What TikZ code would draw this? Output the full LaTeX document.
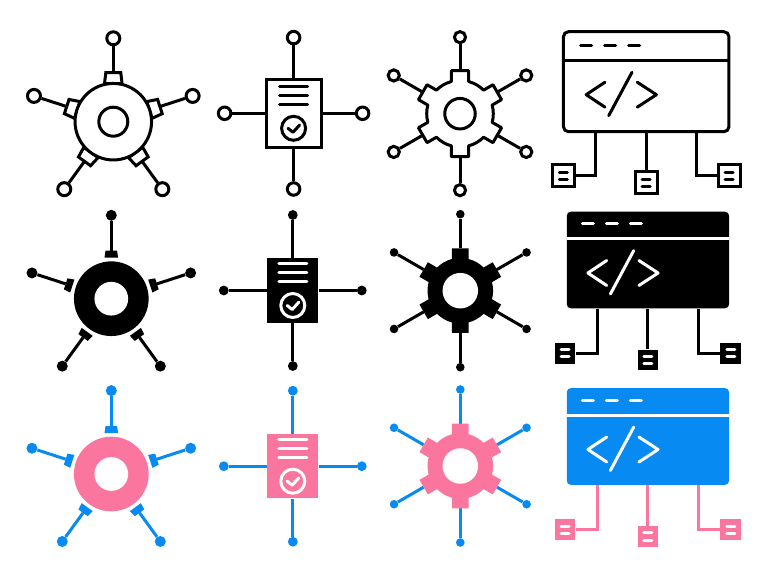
\documentclass[tikz,border=0pt]{standalone}
\usepackage{amsmath}
\usetikzlibrary{calc,positioning}

\definecolor{iconblue}{RGB}{8,138,243}
\definecolor{iconpink}{RGB}{251,118,158}

\tikzset{
  outlinerow/.style={
    wire/.style={black,line width=3pt},
    lead/.style={black,line width=3pt},
    tip/.style={circle,draw=black,fill=white,line width=3pt,inner sep=0pt},
    hubdisc/.style={circle,draw=black,fill=white,line width=3pt,inner sep=0pt},
    hubhole/.style={circle,draw=black,line width=3pt,inner sep=0pt},
    tabshape/.style={draw=black,fill=white,line width=3pt},
    sheet/.style={rectangle,draw=black,fill=white,line width=3pt,inner sep=0pt},
    gearbody/.style={draw=black,fill=white,line width=3pt,line join=round},
    winframe/.style={rectangle,rounded corners=5pt,draw=black,fill=white,line width=3pt,inner sep=0pt},
    smallbox/.style={rectangle,draw=black,fill=white,line width=3pt,inner sep=0pt,minimum size=22pt},
    glyph/.style={black,line width=3pt,line cap=round,line join=round}},
  solidrow/.style={
    wire/.style={#1,line width=3pt},
    tip/.style={circle,fill=#1,inner sep=0pt},
    tabshape/.style={draw=none,fill=#1},
    hubhole/.style={circle,fill=white,inner sep=0pt},
    glyph/.style={white,line width=3pt,line cap=round,line join=round}},
  blackrow/.style={solidrow=black,
    lead/.style={black,line width=3pt},
    hubdisc/.style={circle,fill=black,inner sep=0pt},
    sheet/.style={rectangle,fill=black,inner sep=0pt},
    gearbody/.style={draw=none,fill=black},
    winframe/.style={rectangle,rounded corners=4pt,fill=black,inner sep=0pt},
    smallbox/.style={rectangle,fill=black,inner sep=0pt,minimum size=20.7pt}},
  colourrow/.style={solidrow=iconblue,
    lead/.style={iconpink,line width=3pt},
    hubdisc/.style={circle,fill=iconpink,inner sep=0pt},
    sheet/.style={rectangle,fill=iconpink,inner sep=0pt},
    gearbody/.style={draw=none,fill=iconpink},
    winframe/.style={rectangle,rounded corners=4pt,fill=iconblue,inner sep=0pt},
    smallbox/.style={rectangle,fill=iconpink,inner sep=0pt,minimum size=20.7pt}}
}

% prefix, x, y, hub size, hole size, tab from, tab to, tab half widths, tip size
\newcommand{\hubicon}[9]{
  \begin{scope}[shift={(#2,#3)}]
    \foreach \a in {18,90,162,234,306} {
      \draw[tabshape,rotate=\a] (#6,-#8) -- (#7,-#8*0.85) -- (#7,#8*0.85) -- (#6,#8) -- cycle;
      \coordinate (#1t\a) at (\a:#7);
      \node[tip,minimum size=#9pt] (#1s\a) at (\a:83.4) {};
      \draw[wire] (#1s\a) -- (#1t\a);
    }
    \node[hubdisc,minimum size=#4pt] (#1hub) at (0,0) {};
    \node[hubhole,minimum size=#5pt] (#1hole) at (0,0) {};
  \end{scope}
}

% prefix, x, y, width, height, side reach, top reach, tip size
\newcommand{\docicon}[8]{
  \begin{scope}[shift={(#2,#3)}]
    \node[tip,minimum size=#8pt] (#1n) at (0,#7) {};
    \node[tip,minimum size=#8pt] (#1s) at (0,-#7) {};
    \node[tip,minimum size=#8pt] (#1w) at (-#6,0) {};
    \node[tip,minimum size=#8pt] (#1e) at (#6,0) {};
    \node[sheet,minimum width=#4pt,minimum height=#5pt] (#1doc) at (0,0) {};
    \draw[wire] (#1n) -- (#1doc);
    \draw[wire] (#1s) -- (#1doc);
    \draw[wire] (#1w) -- (#1doc);
    \draw[wire] (#1e) -- (#1doc);
    \foreach \ly in {26.7,17.7,8.9}
      \draw[glyph] (-14,\ly) -- (14,\ly);
    \draw[glyph] (0,-15) circle (12);
    \draw[glyph] (-5.6,-15) -- (-0.6,-19) -- (6,-11.7);
  \end{scope}
}

% prefix, x, y, body radius, tooth tip, tooth half width, hole size, tip size
\newcommand{\gearicon}[8]{
  \begin{scope}[shift={(#2,#3)}]
    \pgfmathsetmacro{\gb}{asin(#6/#4)}
    \pgfmathsetmacro{\gt}{atan(#6/#5)}
    \pgfmathsetmacro{\gr}{sqrt(#5*#5+#6*#6)}
    \foreach \a in {30,90,...,330} {
      \coordinate (#1t\a) at (\a:#5);
      \node[tip,minimum size=#8pt] (#1s\a) at (\a:76.5) {};
      \draw[wire] (#1s\a) -- (#1t\a);
    }
    \draw[gearbody] ({30-\gb}:#4)
      \foreach \a in {30,90,...,330} {
        -- ({\a-\gt}:\gr) -- ({\a+\gt}:\gr) -- ({\a+\gb}:#4)
        arc[start angle={\a+\gb},end angle={\a+60-\gb},radius=#4pt]
      } -- cycle;
    \node[hubhole,minimum size=#7pt] (#1hole) at (0,0) {};
  \end{scope}
}

% prefix, x, y, width, height, side box drop, middle box drop
\newcommand{\winicon}[7]{
  \begin{scope}[shift={(#2,#3)}]
    \node[winframe,minimum width=#4pt,minimum height=#5pt] (#1win) at (0,0) {};
    \node[smallbox,below=#6pt of #1win.south,xshift=-82.9pt,anchor=center] (#1left) {};
    \node[smallbox,below=#7pt of #1win.south,anchor=center] (#1mid) {};
    \node[smallbox,below=#6pt of #1win.south,xshift=82.9pt,anchor=center] (#1right) {};
    \coordinate (#1l) at ($(#1win.south)+(-50.4,0)$);
    \coordinate (#1r) at ($(#1win.south)+(50.4,0)$);
    \draw[lead] (#1l) |- (#1left);
    \draw[lead] (#1win.south) -- (#1mid);
    \draw[lead] (#1r) |- (#1right);
    \node[smallbox] at (#1left) {};
    \node[smallbox] at (#1mid) {};
    \node[smallbox] at (#1right) {};
    \draw[glyph,line cap=butt] (-#4/2,21) -- (#4/2,21);
    \foreach \dx in {-60,-36,-12}
      \draw[glyph] (\dx-5.5,36) -- (\dx+5.5,36);
    \draw[glyph] (-41.2,-0.5) -- (-60,-13) -- (-41.2,-25.5);
    \draw[glyph] (-14.2,9.4) -- (-37.5,-34);
    \draw[glyph] (-9,-0.5) -- (10.2,-13) -- (-9,-25.5);
    \foreach \bx in {left,mid,right} {
      \draw[glyph] ($(#1\bx)+(-4,3.6)$) -- ($(#1\bx)+(4,3.6)$);
      \draw[glyph] ($(#1\bx)+(-4,-3.6)$) -- ($(#1\bx)+(4,-3.6)$);
    }
  \end{scope}
}

\begin{document}
\begin{tikzpicture}[x=1pt,y=1pt]
  \path[fill=white,use as bounding box] (0,0) rectangle (768,571);

  \begin{scope}[outlinerow]
    \hubicon{a}{113.3}{449.3}{76.5}{29}{38}{49}{8.8}{13}
    \docicon{b}{293.6}{457.7}{55}{68.5}{69}{75.7}{12.5}
    \gearicon{c}{460}{457.3}{33.3}{43}{8.6}{30.5}{11.2}
    \winicon{d}{646.2}{489.3}{165.5}{100}{42.6}{49.6}
  \end{scope}

  \begin{scope}[blackrow]
    \hubicon{e}{111.3}{272.3}{74.7}{33.7}{41}{48}{6.8}{11}
    \docicon{f}{292.8}{280.5}{51}{64.4}{69}{75.5}{9.8}
    \gearicon{g}{460.3}{280.3}{32.8}{42.3}{8.4}{35.5}{8.6}
    \winicon{h}{647.9}{311}{162.3}{96.6}{44.7}{51.4}
  \end{scope}

  \begin{scope}[colourrow]
    \hubicon{i}{111.3}{97}{74.7}{33.7}{41}{48}{6.8}{11}
    \docicon{j}{292.8}{104.8}{51}{64.4}{69}{75.5}{9.8}
    \gearicon{k}{460.3}{105}{32.8}{42.3}{8.4}{35.5}{8.6}
    \winicon{m}{647.9}{134.5}{162.3}{96.6}{44.7}{51.4}
  \end{scope}
\end{tikzpicture}
\end{document}
